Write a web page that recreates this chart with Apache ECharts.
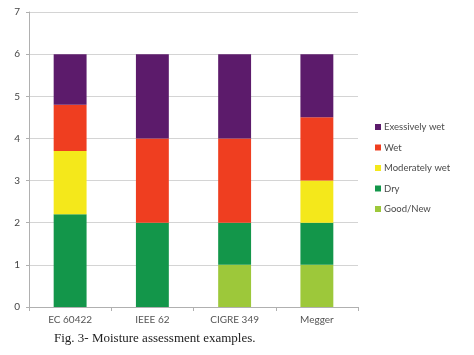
<!DOCTYPE html>
<html><head><meta charset="utf-8">
<script src="https://cdn.jsdelivr.net/npm/echarts@6/dist/echarts.min.js"></script>
<style>html,body{margin:0;padding:0;background:#fff;}#c{width:474px;height:355px;}</style>
</head><body><div id="c"></div>
<script>
var categories = ['EC 60422', 'IEEE 62', 'CIGRE 349', 'Megger'];
var goodNew = [0, 0, 1, 1];
var dry = [2.2, 2, 1, 1];
var moderatelyWet = [1.5, 0, 0, 1];
var wet = [1.1, 2, 2, 1.5];
var excessivelyWet = [1.2, 2, 2, 1.5];
var yTicks = [0, 1, 2, 3, 4, 5, 6, 7];

var font = 'Lato, "Open Sans", sans-serif';
function s(name, data, color) {
  return {name: name, type: 'bar', stack: 'm', data: data, barWidth: '40%',
    itemStyle: {color: color}, emphasis: {disabled: true}};
}
var chart = echarts.init(document.getElementById('c'));
chart.setOption({
  animation: false,
  backgroundColor: '#fff',
  title: {text: 'Fig. 3- Moisture assessment examples.', left: 54, top: 332, padding: 0,
    textStyle: {fontFamily: '"Liberation Serif", "DejaVu Serif", serif', fontSize: 13, fontWeight: 'normal', color: '#222'}},
  grid: {left: 29, right: 116, top: 12, bottom: 48},
  legend: {orient: 'vertical', left: 370, top: 117, itemWidth: 6, itemHeight: 6, itemGap: 10.5,
    icon: 'rect',
    data: ['Exessively wet', 'Wet', 'Moderately wet', 'Dry', 'Good/New'],
    textStyle: {fontFamily: font, fontSize: 9.5, color: '#4a4a4a', padding: [0, 0, 0, -2]}},
  xAxis: {type: 'category', data: categories,
    axisLine: {lineStyle: {color: '#b0b0b0'}},
    axisTick: {show: true, length: 4, lineStyle: {color: '#b0b0b0'}},
    axisLabel: {fontFamily: font, fontSize: 10, color: '#555', margin: 8}},
  yAxis: {type: 'value', min: yTicks[0], max: yTicks[yTicks.length - 1], interval: 1,
    axisLine: {show: true, lineStyle: {color: '#b0b0b0'}},
    axisTick: {show: true, length: 3, lineStyle: {color: '#b0b0b0'}},
    splitLine: {lineStyle: {color: '#d4d4d4'}},
    axisLabel: {fontFamily: font, fontSize: 10, color: '#444', margin: 9}},
  series: [
    s('Good/New', goodNew, '#9dc83a'),
    s('Dry', dry, '#13964a'),
    s('Moderately wet', moderatelyWet, '#f4e81b'),
    s('Wet', wet, '#ef3e20'),
    s('Exessively wet', excessivelyWet, '#5c1b6b')
  ]
});
</script></body></html>
